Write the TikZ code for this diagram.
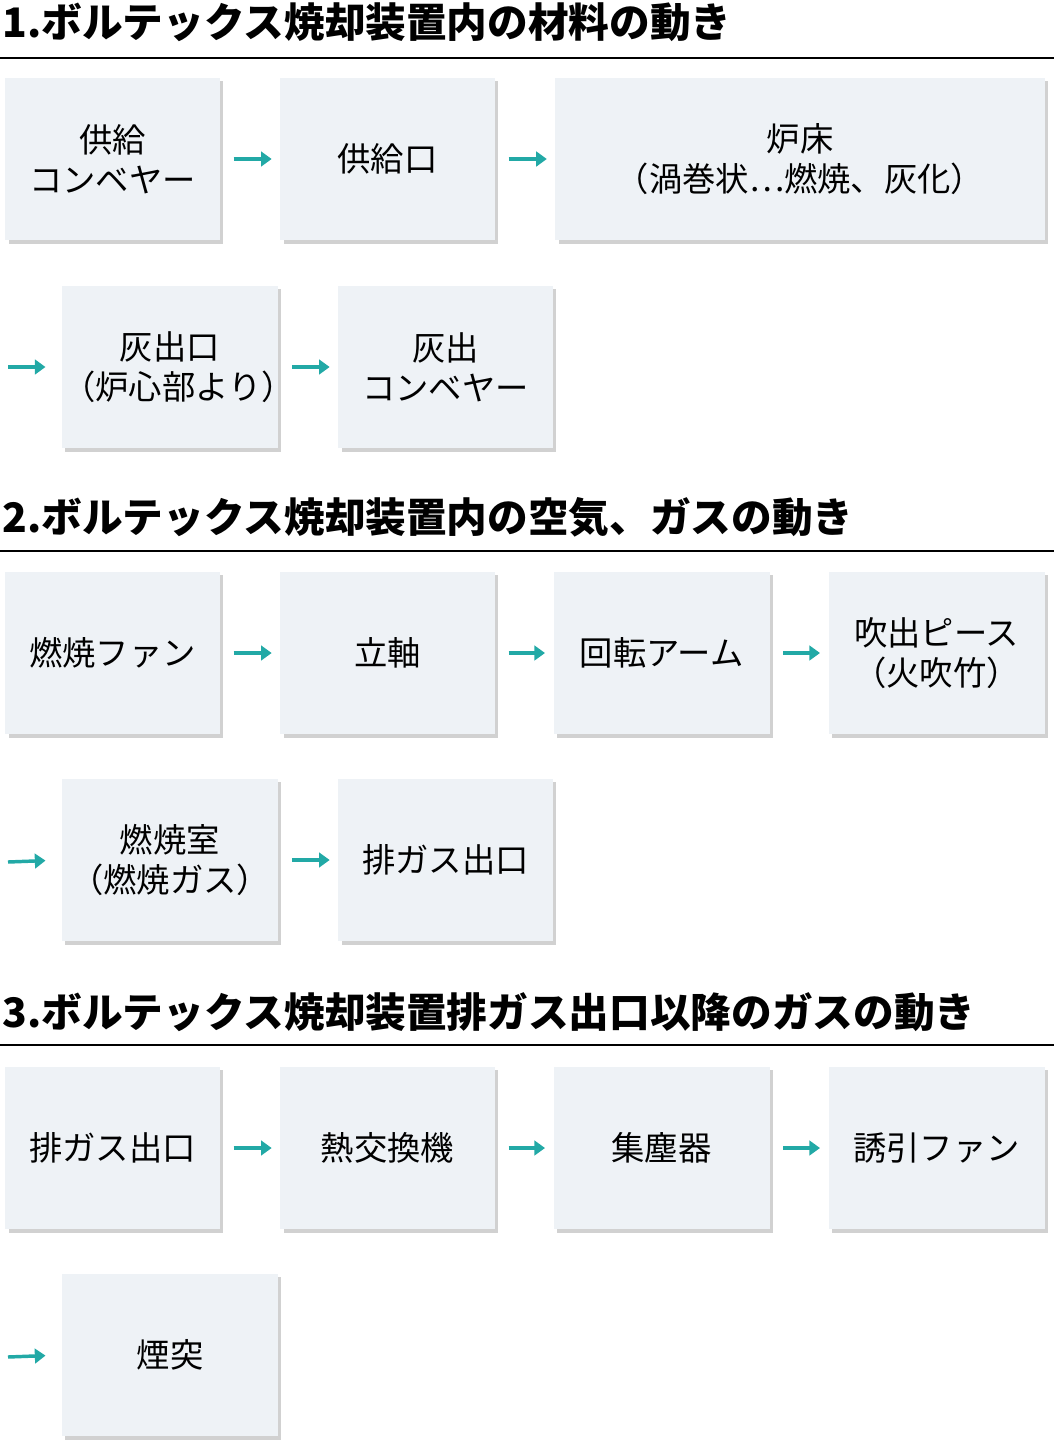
\documentclass[tikz,border=0pt]{standalone}
\usepackage{fontspec}
\setmainfont{Noto Sans CJK JP}
\usetikzlibrary{shadows,arrows.meta}
\definecolor{boxfill}{HTML}{EEF2F6}
\definecolor{arrowteal}{HTML}{22A9A6}
\tikzset{every picture/.style={line width=0.75pt}}
\tikzset{
  flowbox/.style={fill=boxfill, draw=none, inner sep=0pt, align=center,
    font=\fontsize{25}{30}\selectfont,
    drop shadow={shadow xshift=2.5pt, shadow yshift=-2.5pt, fill=black!40, opacity=.45}},
  flowarrow/.style={draw=arrowteal, line width=2.6pt, -{Triangle[length=8pt,width=11pt]}},
  heading/.style={anchor=west, inner sep=0pt, font=\fontsize{30.5}{34}\selectfont\bfseries},
  rule/.style={line width=1.5pt},
}
\begin{document}
\begin{tikzpicture}[x=0.75pt,y=0.75pt,yscale=-1,xscale=1]
\useasboundingbox (0,0) rectangle (1054,1454);

% Section 1
\node[heading] (h1) at (2,22) {1.ボルテックス焼却装置内の材料の動き};
\draw[rule] (0,58) -- (1054,58);
\node[flowbox, text width=161pt, minimum height=122pt] (a1) at (112.5,159) {供給\\コンベヤー};
\node[flowbox, text width=161pt, minimum height=122pt] (a2) at (387.5,159) {供給口};
\node[flowbox, text width=367pt, minimum height=122pt] (a3) at (800,159) {炉床\\（渦巻状…燃焼、灰化）};
\node[flowbox, text width=162pt, minimum height=122pt] (a4) at (170,367) {灰出口\\（炉心部より）};
\node[flowbox, text width=161pt, minimum height=122pt] (a5) at (445.5,367) {灰出\\コンベヤー};
\coordinate (s1) at (8,367);
\draw[flowarrow, shorten <=10pt, shorten >=6pt] (a1.east) -- (a2.west |- a1.east);
\draw[flowarrow, shorten <=10pt, shorten >=6pt] (a2.east) -- (a3.west |- a2.east);
\draw[flowarrow, shorten >=12pt] (s1) -- (a4.west);
\draw[flowarrow, shorten <=10pt, shorten >=6pt] (a4.east) -- (a5.west);

% Section 2
\node[heading] (h2) at (2,517) {2.ボルテックス焼却装置内の空気、ガスの動き};
\draw[rule] (0,551) -- (1054,551);
\node[flowbox, text width=161pt, minimum height=122pt] (b1) at (112.5,653) {燃焼ファン};
\node[flowbox, text width=161pt, minimum height=122pt] (b2) at (387.5,653) {立軸};
\node[flowbox, text width=162pt, minimum height=122pt] (b3) at (661.5,653) {回転アーム};
\node[flowbox, text width=162pt, minimum height=122pt] (b4) at (936.5,653) {吹出ピース\\（火吹竹）};
\node[flowbox, text width=162pt, minimum height=122pt] (b5) at (170,860) {燃焼室\\（燃焼ガス）};
\node[flowbox, text width=161pt, minimum height=122pt] (b6) at (445.5,860) {排ガス出口};
\coordinate (s2) at (8,862);
\draw[flowarrow, shorten <=10pt, shorten >=6pt] (b1.east) -- (b2.west);
\draw[flowarrow, shorten <=10pt, shorten >=6pt] (b2.east) -- (b3.west);
\draw[flowarrow, shorten <=10pt, shorten >=6pt] (b3.east) -- (b4.west);
\draw[flowarrow, shorten >=12pt] (s2) -- (b5.west);
\draw[flowarrow, shorten <=10pt, shorten >=6pt] (b5.east) -- (b6.west);

% Section 3
\node[heading] (h3) at (2,1012) {3.ボルテックス焼却装置排ガス出口以降のガスの動き};
\draw[rule] (0,1045) -- (1054,1045);
\node[flowbox, text width=161pt, minimum height=122pt] (c1) at (112.5,1148) {排ガス出口};
\node[flowbox, text width=161pt, minimum height=122pt] (c2) at (387.5,1148) {熱交換機};
\node[flowbox, text width=162pt, minimum height=122pt] (c3) at (661.5,1148) {集塵器};
\node[flowbox, text width=162pt, minimum height=122pt] (c4) at (936.5,1148) {誘引ファン};
\node[flowbox, text width=162pt, minimum height=122pt] (c5) at (170,1355) {煙突};
\coordinate (s3) at (8,1357);
\draw[flowarrow, shorten <=10pt, shorten >=6pt] (c1.east) -- (c2.west);
\draw[flowarrow, shorten <=10pt, shorten >=6pt] (c2.east) -- (c3.west);
\draw[flowarrow, shorten <=10pt, shorten >=6pt] (c3.east) -- (c4.west);
\draw[flowarrow, shorten >=12pt] (s3) -- (c5.west);
\end{tikzpicture}
\end{document}
